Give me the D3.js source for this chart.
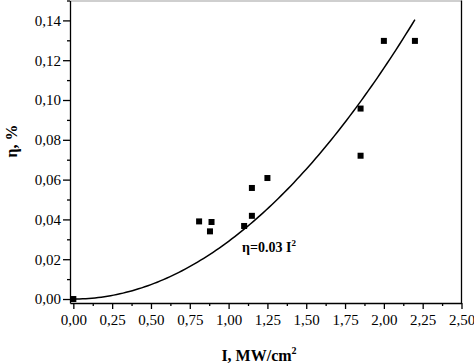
<!DOCTYPE html>
<html>
<head>
<meta charset="utf-8">
<script src="https://cdn.jsdelivr.net/npm/d3@7"></script>
<style>
  body { margin: 0; background: #fff; }
  svg { display: block; }
  .axis text { font-family: "Liberation Serif", "Times New Roman", serif; font-size: 15px; fill: #000; }
  .axis path, .axis line { stroke: #000; stroke-width: 1.3; }
</style>
</head>
<body>
<div id="chart"></div>
<script>
// Data
var intensity  = [0.00, 0.81, 0.88, 0.89, 1.10, 1.15, 1.15, 1.25, 1.85, 1.85, 2.00, 2.20];
var efficiency = [0.000, 0.039, 0.034, 0.0387, 0.0367, 0.0418, 0.0558, 0.0608, 0.0957, 0.072, 0.1297, 0.1297];

// fit: eta = k * I^2 (label says 0.03, drawn line reads ~0.029)
var fitCoef = 0.029;
var fitRange = [0, 2.2];

var xTicks = [0, 0.25, 0.5, 0.75, 1.0, 1.25, 1.5, 1.75, 2.0, 2.25, 2.5];
var yTicks = [0, 0.02, 0.04, 0.06, 0.08, 0.10, 0.12, 0.14];

var svgWidth = 474;
var svgHeight = 363;
var margin = { top: 0.5, right: 12.5, bottom: 60, left: 70 };
var width = svgWidth - margin.left - margin.right;
var height = 303 - margin.top;

var svg = d3.select("#chart").append("svg")
  .attr("width", svgWidth)
  .attr("height", svgHeight);

var chartGroup = svg.append("g")
  .attr("transform", `translate(${margin.left}, ${margin.top})`);

var x = d3.scaleLinear().domain([-0.0215, 2.5]).range([0, width]);
var y = d3.scaleLinear().domain([-0.002, 0.15]).range([height, 0]);

var fmt = d => d3.format(".2f")(d).replace(".", ",");

// top (gray) and right frame lines
chartGroup.append("line")
  .attr("x1", 0).attr("x2", width).attr("y1", 0.5).attr("y2", 0.5)
  .attr("stroke", "#cfcfcf").attr("stroke-width", 2);
chartGroup.append("line")
  .attr("x1", width).attr("x2", width).attr("y1", 0).attr("y2", height)
  .attr("stroke", "#000").attr("stroke-width", 1.3);

// minor ticks
var xMinor = xTicks.slice(0, -1).map(d => d + 0.125);
var yMinor = yTicks.map(d => d + 0.01);

chartGroup.append("g").attr("class", "axis")
  .attr("transform", `translate(0, ${height})`)
  .call(d3.axisBottom(x).tickValues(xMinor).tickSize(3).tickFormat(""))
  .select(".domain").remove();
chartGroup.append("g").attr("class", "axis")
  .call(d3.axisLeft(y).tickValues(yMinor).tickSize(3).tickFormat(""))
  .select(".domain").remove();

// major axes
chartGroup.append("g").attr("class", "axis")
  .attr("transform", `translate(0, ${height})`)
  .call(d3.axisBottom(x).tickValues(xTicks).tickFormat(fmt)
    .tickSize(6).tickSizeOuter(0).tickPadding(5));

chartGroup.append("g").attr("class", "axis")
  .call(d3.axisLeft(y).tickValues(yTicks).tickFormat(fmt)
    .tickSize(7).tickSizeOuter(0).tickPadding(2));

// fit curve
var fitPts = d3.range(fitRange[0], fitRange[1] + 0.001, 0.02).map(i => [i, fitCoef * i * i]);
chartGroup.append("path")
  .datum(fitPts)
  .attr("fill", "none")
  .attr("stroke", "#000")
  .attr("stroke-width", 1.5)
  .attr("d", d3.line().x(d => x(d[0])).y(d => y(d[1])));

// markers
var sq = 6;
chartGroup.selectAll("rect.pt")
  .data(intensity)
  .enter()
  .append("rect")
  .attr("class", "pt")
  .attr("x", d => x(d) - sq / 2)
  .attr("y", (d, i) => y(efficiency[i]) - sq / 2)
  .attr("width", sq)
  .attr("height", sq)
  .attr("fill", "#000");

// equation label
var eq = chartGroup.append("text")
  .attr("x", 172)
  .attr("y", 251)
  .attr("font-family", "Liberation Serif, Times New Roman, serif")
  .attr("font-weight", "bold")
  .attr("font-size", "14px");
eq.append("tspan").text("\u03b7=0.03 I");
eq.append("tspan").attr("dy", -6).attr("font-size", "9px").text("2");

// axis titles
var xt = svg.append("text")
  .attr("x", 259)
  .attr("y", 361)
  .attr("text-anchor", "middle")
  .attr("font-family", "Liberation Serif, Times New Roman, serif")
  .attr("font-weight", "bold")
  .attr("font-size", "16px");
xt.append("tspan").text("I, MW/cm");
xt.append("tspan").attr("dy", -7).attr("font-size", "10px").text("2");

svg.append("text")
  .attr("transform", "translate(17, 141) rotate(-90)")
  .attr("text-anchor", "middle")
  .attr("font-family", "Liberation Serif, Times New Roman, serif")
  .attr("font-weight", "bold")
  .attr("font-size", "16px")
  .text("\u03b7, %");
</script>
</body>
</html>
